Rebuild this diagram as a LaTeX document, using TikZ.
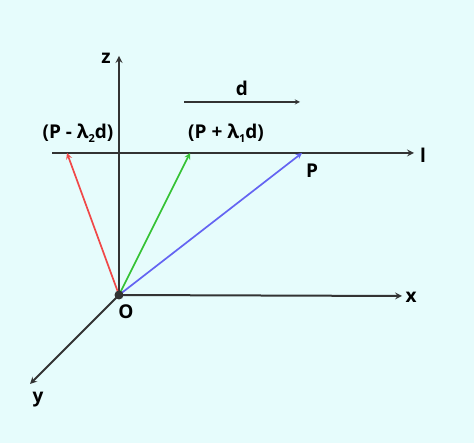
\documentclass[tikz,border=0pt]{standalone}
\usepackage{fontspec}
\setmainfont{Open Sans}
\usetikzlibrary{arrows,positioning}
\definecolor{bgcyan}{HTML}{E6FCFC}
\definecolor{axisgray}{HTML}{333333}
\definecolor{vred}{HTML}{F04848}
\definecolor{vgreen}{HTML}{34C234}
\definecolor{vblue}{HTML}{6464F2}
\newcommand{\lowsub}[1]{\raisebox{-4pt}{\fontsize{11}{11}\selectfont #1}}

\begin{document}
\begin{tikzpicture}[x=1pt,y=-1pt,>=stealth,
  axis/.style={draw=axisgray, line width=2pt, ->},
  vec/.style={line width=1.7pt, ->},
  lab/.style={font=\bfseries\fontsize{19}{22}\selectfont, text=black, inner sep=1pt}]
\fill[bgcyan] (0,0) rectangle (474,443);
\coordinate (O) at (119,295);
\coordinate (Z) at (119,56);
\coordinate (X) at (402,296);
\coordinate (Y) at (30,384);
\coordinate (L0) at (52,153);
\coordinate (L1) at (414,153);
\coordinate (P) at (302,153);
\coordinate (Q) at (190,153);
\coordinate (R) at (67,153);
\coordinate (D0) at (184,102);
\coordinate (D1) at (300,102);
% axes
\draw[axis] (O) -- (Z);
\draw[axis] (O) -- (X);
\draw[axis] (O) -- (Y);
\node[lab] (zlab) at (106,58) {z};
\node[lab] (xlab) at (411,297) {x};
\node[lab] (ylab) at (38,400) {y};
% line l and direction d
\draw[axis] (L0) -- (L1);
\node[lab] (llab) at (423,155) {l};
\draw[draw=axisgray, line width=1.3pt, ->] (D0) -- (D1);
\node[lab] (dlab) at (242,88) {d};
% position vectors
\draw[vec, vred] (O) -- (R);
\draw[vec, vgreen] (O) -- (Q);
\draw[vec, vblue] (O) -- (P);
\node[lab] (rlab) at (78,133) {(P - λ\lowsub{2}d)};
\node[lab] (qlab) at (226,133) {(P + λ\lowsub{1}d)};
\node[lab] (plab) at (312,171) {P};
\fill[axisgray] (O) circle (4.5pt);
\node[lab] (olab) at (126,312) {O};
\end{tikzpicture}
\end{document}
